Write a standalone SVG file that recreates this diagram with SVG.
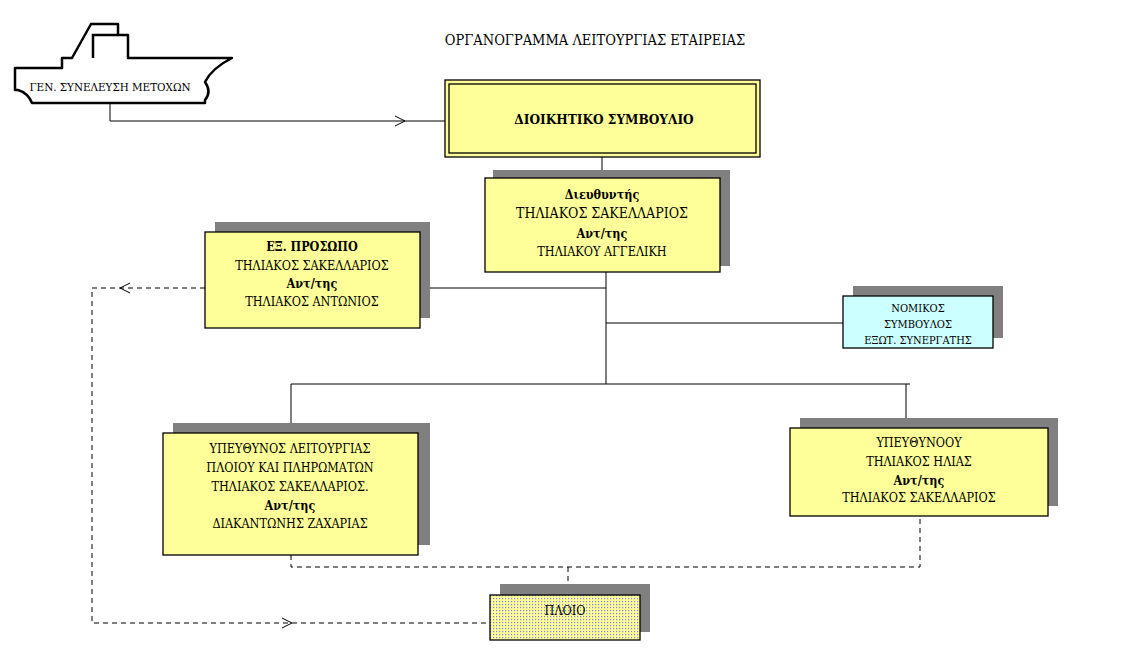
<svg xmlns="http://www.w3.org/2000/svg" width="1148" height="667" viewBox="0 0 1148 667">
<style>
text{font-family:"DejaVu Serif","Liberation Serif",serif;font-size:12.5px;fill:#000;text-anchor:middle;font-stretch:condensed}
.b{font-weight:bold;font-size:12.5px}
.box{fill:#ffff99;stroke:#000;stroke-width:1.3}
.sh{fill:#808080}
.ln{stroke:#000;stroke-width:1;fill:none}
.d{stroke:#000;stroke-width:1;fill:none;stroke-dasharray:5,4}
</style>
<defs>
<pattern id="dots" width="3" height="3" patternUnits="userSpaceOnUse">
<rect width="3" height="3" fill="#ffff99"/><rect x="1" y="1" width="1.2" height="1.2" fill="#8080e0"/>
</pattern>
</defs>
<rect width="1148" height="667" fill="#fff"/>
<text x="595" y="45" style="font-size:14.5px">ΟΡΓΑΝΟΓΡΑΜΜΑ ΛΕΙΤΟΥΡΓΙΑΣ ΕΤΑΙΡΕΙΑΣ</text>
<g id="connectors">
<polyline class="ln" points="110,104 110,121 445,121"/>
<polyline class="ln" points="395,116 405,121 395,126"/>
<line class="ln" x1="602" y1="157" x2="602" y2="178"/>
<line class="ln" x1="606" y1="272" x2="606" y2="384"/>
<line class="ln" x1="420" y1="288" x2="606" y2="288"/>
<line class="ln" x1="606" y1="323" x2="843" y2="323"/>
<line class="ln" x1="291" y1="384" x2="910" y2="384"/>
<line class="ln" x1="291" y1="384" x2="291" y2="433"/>
<line class="ln" x1="906" y1="384" x2="906" y2="428"/>
<polyline class="d" points="291,555 291,567 920,567 920,516"/>
<line class="d" x1="568" y1="567" x2="568" y2="595"/>
<polyline class="d" points="205,288 92,288 92,623 490,623"/>
<polyline class="ln" points="130,283 120,288 130,293"/>
<polyline class="ln" points="282,618 292,623 282,628"/>
</g>
<g id="ship">
<path d="M15,68 L62,68 L62,58 L72,58 L91,24 L118,24 L118,35 L128,35 L128,58 L232,58 Q212,68 205,82 Q212,92 205,100 L205,103 L32,103 Q28,93 18,90 L15,90 Z" fill="#fff" stroke="#000" stroke-width="2.5" stroke-linejoin="round"/>
<polyline points="93,58 93,35 118,35" fill="none" stroke="#000" stroke-width="2.5"/>
<text x="110" y="91" style="font-size:11.5px">ΓΕΝ. ΣΥΝΕΛΕΥΣΗ ΜΕΤΟΧΩΝ</text>
</g>
<g id="ds">
<rect x="445" y="80" width="315" height="77" fill="#ffff99" stroke="#000" stroke-width="1.3"/>
<rect x="449" y="84" width="307" height="69" fill="none" stroke="#000" stroke-width="1.3"/>
<text class="b" x="604" y="124" style="font-size:13.5px">ΔΙΟΙΚΗΤΙΚΟ ΣΥΜΒΟΥΛΙΟ</text>
</g>
<g id="director">
<rect class="sh" x="493" y="170" width="237" height="96"/>
<rect class="box" x="485" y="178" width="235" height="94"/>
<text class="b" x="602" y="199">Διευθυντής</text>
<text x="602" y="218" style="font-size:14px">ΤΗΛΙΑΚΟΣ ΣΑΚΕΛΛΑΡΙΟΣ</text>
<text class="b" x="602" y="238">Αντ/της</text>
<text x="602" y="256">ΤΗΛΙΑΚΟΥ ΑΓΓΕΛΙΚΗ</text>
</g>
<g id="ex">
<rect class="sh" x="215" y="222" width="215" height="96"/>
<rect class="box" x="205" y="232" width="215" height="96"/>
<text class="b" x="312" y="251">ΕΞ. ΠΡΟΣΩΠΟ</text>
<text x="312" y="270">ΤΗΛΙΑΚΟΣ ΣΑΚΕΛΛΑΡΙΟΣ</text>
<text class="b" x="312" y="288">Αντ/της</text>
<text x="312" y="306">ΤΗΛΙΑΚΟΣ ΑΝΤΩΝΙΟΣ</text>
</g>
<g id="nomikos">
<rect class="sh" x="853" y="286" width="150" height="52"/>
<rect x="843" y="296" width="150" height="52" fill="#ccffff" stroke="#000" stroke-width="1.3"/>
<text x="918" y="312" style="font-size:11px">ΝΟΜΙΚΟΣ</text>
<text x="918" y="328" style="font-size:11px">ΣΥΜΒΟΥΛΟΣ</text>
<text x="918" y="344" style="font-size:11px">ΕΞΩΤ. ΣΥΝΕΡΓΑΤΗΣ</text>
</g>
<g id="ypleft">
<rect class="sh" x="173" y="423" width="257" height="122"/>
<rect class="box" x="163" y="433" width="255" height="122"/>
<text x="290" y="453">ΥΠΕΥΘΥΝΟΣ  ΛΕΙΤΟΥΡΓΙΑΣ</text>
<text x="290" y="472">ΠΛΟΙΟΥ ΚΑΙ ΠΛΗΡΩΜΑΤΩΝ</text>
<text x="290" y="491">ΤΗΛΙΑΚΟΣ ΣΑΚΕΛΛΑΡΙΟΣ.</text>
<text class="b" x="290" y="510">Αντ/της</text>
<text x="290" y="528">ΔΙΑΚΑΝΤΩΝΗΣ ΖΑΧΑΡΙΑΣ</text>
</g>
<g id="ypright">
<rect class="sh" x="800" y="418" width="258" height="88"/>
<rect class="box" x="790" y="428" width="258" height="88"/>
<text x="919" y="447">ΥΠΕΥΘΥΝΟΟΥ</text>
<text x="919" y="466">ΤΗΛΙΑΚΟΣ ΗΛΙΑΣ</text>
<text class="b" x="919" y="485">Αντ/της</text>
<text x="919" y="502">ΤΗΛΙΑΚΟΣ ΣΑΚΕΛΛΑΡΙΟΣ</text>
</g>
<g id="ploio">
<rect class="sh" x="500" y="584" width="150" height="48"/>
<rect x="490" y="595" width="150" height="45" fill="url(#dots)" stroke="#000" stroke-width="1.3"/>
<text x="565" y="615">ΠΛΟΙΟ</text>
</g>
</svg>
